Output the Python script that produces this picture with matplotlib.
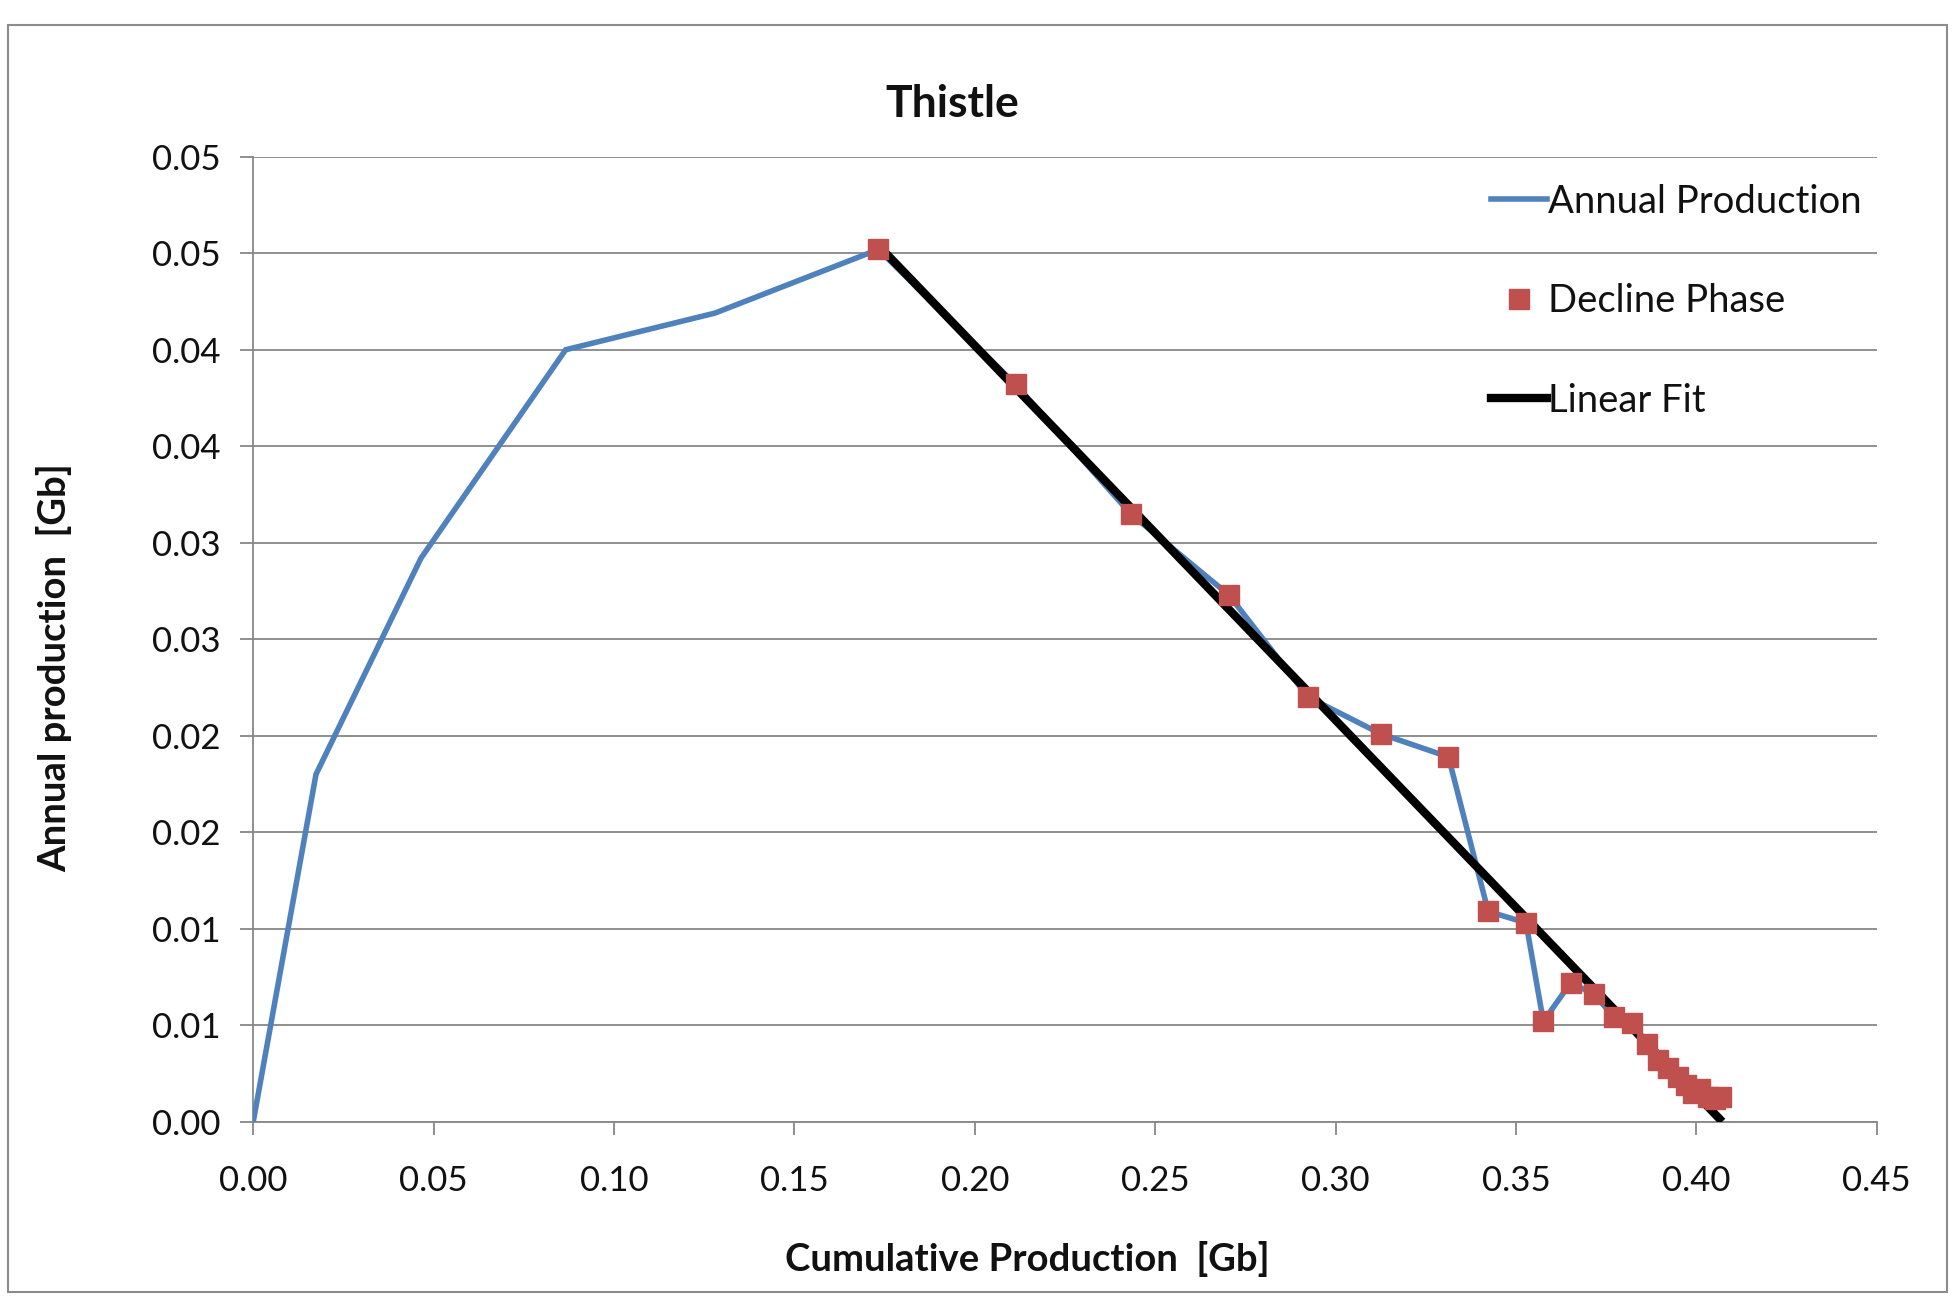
"""Thistle field: annual vs cumulative production with decline fit"""

import numpy as np
import matplotlib
matplotlib.use('Agg')
import matplotlib.pyplot as plt
from matplotlib.patches import Rectangle
from matplotlib.lines import Line2D

plt.rcParams['font.family'] = ['Lato', 'DejaVu Sans']

# build-up phase (before peak)
cum_rise = [0.0, 0.0174, 0.0465, 0.0866, 0.1280]
ann_rise = [0.0, 0.0180, 0.0292, 0.0400, 0.0419]

# decline phase (peak onwards)
cum_decl = [0.1733, 0.2113, 0.2432, 0.2704, 0.2924, 0.3125, 0.3313, 0.3423,
            0.3528, 0.3576, 0.3652, 0.3717, 0.3773, 0.3823, 0.3863, 0.3894,
            0.3922, 0.3948, 0.3972, 0.3990, 0.4010, 0.4032, 0.4052, 0.4068]
ann_decl = [0.0452, 0.0382, 0.0315, 0.0273, 0.0220, 0.0201, 0.0189, 0.0109,
            0.0103, 0.0052, 0.0072, 0.0066, 0.0054, 0.0051, 0.0040, 0.0032,
            0.0028, 0.0023, 0.0019, 0.0015, 0.0017, 0.0013, 0.0012, 0.0013]

# linear fit endpoints
fit_x = [0.1733, 0.4072]
fit_y = [0.0454, 0.0]

xticks = [0.0, 0.05, 0.10, 0.15, 0.20, 0.25, 0.30, 0.35, 0.40, 0.45]
xlabels = ['0.00', '0.05', '0.10', '0.15', '0.20', '0.25', '0.30', '0.35', '0.40', '0.45']
yticks = [0.0, 0.005, 0.01, 0.015, 0.02, 0.025, 0.03, 0.035, 0.04, 0.045, 0.05]
ylabels = ['0.00', '0.01', '0.01', '0.02', '0.02', '0.03', '0.03', '0.04', '0.04', '0.05', '0.05']

blue = '#4F81BD'
red = '#C0504D'
grid = '#878787'
txt = '#111111'

fig = plt.figure(figsize=(19.6, 13.02), dpi=100)
ax = fig.add_axes([0.1292, 0.1385, 0.9575 - 0.1292, 0.8796 - 0.1385])

cum_all = cum_rise + cum_decl
ann_all = ann_rise + ann_decl
ax.plot(cum_all, ann_all, color=blue, lw=4, zorder=3, solid_joinstyle='miter')
ax.plot(fit_x, fit_y, color='black', lw=6, zorder=4, solid_capstyle='butt')
ax.plot(cum_decl, ann_decl, ls='none', marker='s', ms=14, color=red, zorder=5)

ax.set_xlim(0, 0.45)
ax.set_ylim(0, 0.05)
ax.set_xticks(xticks)
ax.set_xticklabels(xlabels)
ax.set_yticks(yticks)
ax.set_yticklabels(ylabels)
ax.tick_params(axis='both', colors=grid, length=9.5, width=1.3, labelsize=25,
               labelcolor=txt)
ax.tick_params(axis='x', pad=22)
ax.tick_params(axis='y', pad=14)

for s in ['top', 'right']:
    ax.spines[s].set_visible(False)
for s in ['left', 'bottom']:
    ax.spines[s].set_color(grid)
    ax.spines[s].set_linewidth(1.3)
ax.yaxis.grid(True, color=grid, lw=1.3)
ax.set_axisbelow(True)

handles = [Line2D([], [], color=blue, lw=4),
           Line2D([], [], ls='none', marker='s', ms=14, color=red),
           Line2D([], [], color='black', lw=6)]
ax.legend(handles, ['Annual Production', 'Decline Phase', 'Linear Fit'],
          loc='upper left', bbox_to_anchor=(0.7625, 0.972), frameon=False,
          fontsize=27.5, handlelength=1.45, handletextpad=0.05, labelspacing=1.66,
          borderaxespad=0, borderpad=0, labelcolor=txt)

fig.text(0.486, 0.92, 'Thistle', ha='center', va='center', fontsize=32,
         fontweight='bold', color=txt)
fig.text(0.524, 0.033, 'Cumulative Production  [Gb]', ha='center', va='center',
         fontsize=27.5, fontweight='bold', color=txt)
fig.text(0.0275, 0.487, 'Annual production  [Gb]', ha='center', va='center',
         rotation=90, fontsize=27.5, fontweight='bold', color=txt)

fig.patches.append(Rectangle((0.0041, 0.0077), 0.9893, 0.9731, transform=fig.transFigure,
                             fill=False, edgecolor='#8c8c8c', lw=1.5))

fig.savefig('out.png', dpi=100, facecolor='white')
